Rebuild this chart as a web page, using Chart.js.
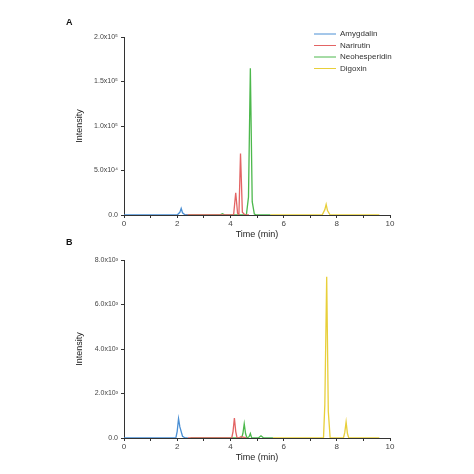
<!DOCTYPE html>
<html>
<head>
<meta charset="utf-8">
<script src="https://cdn.jsdelivr.net/npm/chart.js@4"></script>
<style>
  body { margin: 0; background: #fff; font-family: "Liberation Sans", Arial, sans-serif; }
  #wrap { position: relative; width: 474px; height: 474px; }
  .lbl { position: absolute; font-weight: bold; font-size: 9px; color: #111; }
  canvas { display: block; }
</style>
</head>
<body>
<div id="wrap">
  <div class="lbl" style="left:66px;top:17px">A</div>
  <div class="lbl" style="left:66px;top:237px">B</div>
  <div style="width:474px;height:240px"><canvas id="chartA"></canvas></div>
  <div style="width:474px;height:234px"><canvas id="chartB"></canvas></div>
</div>
<script>
// Date panou A
const seriesNames = ['Amygdalin', 'Narirutin', 'Neohesperidin', 'Digoxin'];
const seriesColors = ['#4a8fd4', '#e36464', '#4cb84c', '#e8cf3a'];

const aAmyT = [0, 1, 2.0, 2.1, 2.15, 2.2, 2.3, 2.4];
const aAmyV = [0, 0, 0, 3000, 7500, 2500, 0, 0];
const aNarT = [2.3, 4.0, 4.12, 4.2, 4.27, 4.32, 4.38, 4.45, 4.55, 4.7];
const aNarV = [0, 0, 0, 25000, 2000, 0, 69000, 3000, 0, 0];
const aNeoT = [2.4, 3.6, 3.7, 3.8, 4.6, 4.68, 4.75, 4.82, 4.9, 5.0, 5.5];
const aNeoV = [0, 0, 1500, 0, 0, 20000, 165000, 15000, 1000, 0, 0];
const aDigT = [5.5, 7.45, 7.55, 7.6, 7.65, 7.75, 9.6];
const aDigV = [0, 0, 6000, 12000, 5000, 0, 0];
const aYTicks = ['0.0', '5.0x10⁴', '1.0x10⁵', '1.5x10⁵', '2.0x10⁵'];

// Date panou B
const bAmyT = [0, 1.95, 2.0, 2.05, 2.1, 2.2, 2.3, 2.4];
const bAmyV = [0, 0, 300, 870, 500, 80, 0, 0];
const bNarT = [2.4, 4.05, 4.1, 4.15, 4.2, 4.25, 4.3, 4.4, 4.6];
const bNarV = [0, 0, 300, 900, 300, 0, 0, 60, 0];
const bNeoT = [2.5, 4.42, 4.47, 4.52, 4.57, 4.62, 4.7, 4.75, 4.8, 5.05, 5.15, 5.25, 5.6];
const bNeoV = [0, 0, 200, 640, 200, 0, 50, 200, 0, 0, 100, 0, 0];
const bDigT = [5.6, 7.5, 7.55, 7.62, 7.68, 7.75, 8.25, 8.3, 8.35, 8.4, 8.45, 9.6];
const bDigV = [0, 0, 1500, 7250, 1200, 0, 0, 250, 720, 200, 0, 0];
const bYTicks = ['0.0', '2.0x10³', '4.0x10³', '6.0x10³', '8.0x10³'];

const xTicks = ['0', '2', '4', '6', '8', '10'];

function pts(t, v) { return t.map((x, i) => ({ x: x, y: v[i] })); }

// legenda desenata in coltul dreapta-sus
const legendPlugin = {
  id: 'sideLegend',
  afterDraw(chart, args, opts) {
    if (!opts.show) return;
    const ctx = chart.ctx;
    const x0 = chart.chartArea.right - 76;
    let y = chart.chartArea.top - 3;
    ctx.save();
    ctx.font = '8px "Liberation Sans", Arial';
    ctx.textBaseline = 'middle';
    chart.data.datasets.forEach(ds => {
      ctx.strokeStyle = ds.borderColor;
      ctx.lineWidth = 1;
      ctx.beginPath();
      ctx.moveTo(x0, y);
      ctx.lineTo(x0 + 22, y);
      ctx.stroke();
      ctx.fillStyle = '#333';
      ctx.fillText(ds.label, x0 + 26, y);
      y += 11.5;
    });
    ctx.restore();
  }
};

function makeChart(id, data, yMax, yLabels, padTop, padBottom, showLegend) {
  const step = yMax / 4;
  return new Chart(document.getElementById(id), {
    type: 'line',
    data: {
      datasets: data.map((d, i) => ({
        label: seriesNames[i],
        data: pts(d[0], d[1]),
        borderColor: seriesColors[i],
        borderWidth: 1.3,
        pointRadius: 0,
        tension: 0
      }))
    },
    options: {
      responsive: true,
      maintainAspectRatio: false,
      animation: false,
      layout: { padding: { top: padTop, right: 84, left: 74, bottom: padBottom } },
      plugins: {
        legend: { display: false },
        tooltip: { enabled: false },
        sideLegend: { show: showLegend }
      },
      scales: {
        x: {
          type: 'linear', min: 0, max: 10,
          afterFit(s) { s.height = 25; },
          grid: { drawOnChartArea: false, tickLength: 3, color: '#333' },
          border: { color: '#333' },
          ticks: {
            stepSize: 1, padding: 1, maxRotation: 0, color: '#444',
            font: { size: 8, family: '"Liberation Sans", Arial' },
            callback: v => (v % 2 === 0 ? xTicks[v / 2] : '')
          },
          title: { display: true, text: 'Time (min)', color: '#222', padding: 0,
                   font: { size: 9, family: '"Liberation Sans", Arial' } }
        },
        y: {
          min: 0, max: yMax,
          afterFit(s) { s.width = 50; },
          grid: { drawOnChartArea: false, tickLength: 3, color: '#333' },
          border: { color: '#333' },
          ticks: {
            stepSize: step, color: '#444',
            font: { size: 7, family: '"Liberation Sans", Arial' },
            callback: v => yLabels[Math.round(v / step)]
          },
          title: { display: true, text: 'Intensity', color: '#222', padding: 0,
                   font: { size: 9, family: '"Liberation Sans", Arial' } }
        }
      }
    },
    plugins: [legendPlugin]
  });
}

makeChart('chartA',
  [[aAmyT, aAmyV], [aNarT, aNarV], [aNeoT, aNeoV], [aDigT, aDigV]],
  200000, aYTicks, 37, 0, true);
makeChart('chartB',
  [[bAmyT, bAmyV], [bNarT, bNarV], [bNeoT, bNeoV], [bDigT, bDigV]],
  8000, bYTicks, 20, 11, false);
</script>
</body>
</html>
